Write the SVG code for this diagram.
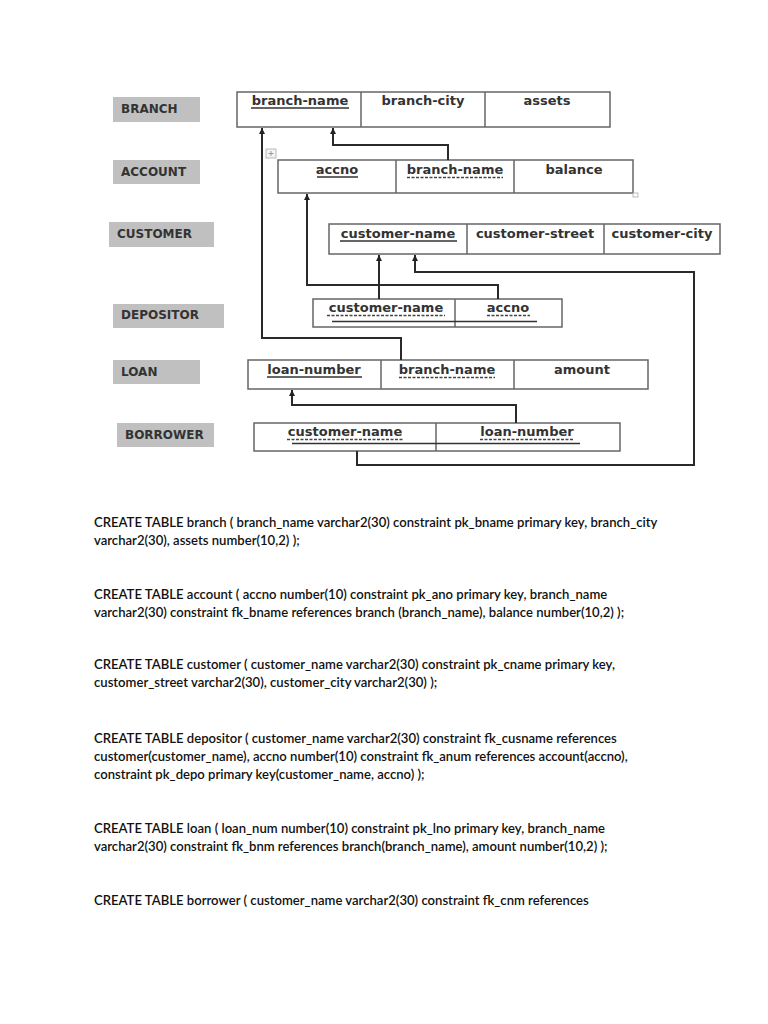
<svg xmlns="http://www.w3.org/2000/svg" width="768" height="1024" viewBox="0 0 768 1024">
<defs>
<marker id="arr" markerUnits="userSpaceOnUse" markerWidth="7" markerHeight="7" refX="6" refY="3" orient="auto">
<path d="M0,0 L6,3 L0,6 z" fill="#222"/>
</marker>
<style>
.lbl{fill:#c0c0c0}
.lt{font-family:"DejaVu Sans",sans-serif;font-weight:bold;font-size:12px;fill:#333}
.tb{fill:#fff;stroke:#666;stroke-width:1.5}
.dv{stroke:#666;stroke-width:1.5}
.ft{font-family:"DejaVu Sans",sans-serif;font-weight:bold;font-size:13px;fill:#333;text-anchor:middle}
.pk{stroke:#333;stroke-width:1.3}
.fk{stroke:#444;stroke-width:1.5;stroke-dasharray:3 1.5}
.cn{fill:none;stroke:#2a2a2a;stroke-width:2}
.sql{font-family:Lato,"Liberation Sans",sans-serif;font-weight:600;font-size:13.1px;fill:#111}
</style>
</defs>
<rect width="768" height="1024" fill="#fff"/>

<g id="label-branch"><rect class="lbl" x="113" y="97" width="87" height="25"/><text class="lt" x="121" y="113">BRANCH</text></g>
<g id="label-account"><rect class="lbl" x="113" y="160" width="87" height="24"/><text class="lt" x="121" y="176">ACCOUNT</text></g>
<g id="label-customer"><rect class="lbl" x="109" y="222" width="105" height="25"/><text class="lt" x="117" y="238">CUSTOMER</text></g>
<g id="label-depositor"><rect class="lbl" x="113" y="304" width="111" height="24"/><text class="lt" x="121" y="319">DEPOSITOR</text></g>
<g id="label-loan"><rect class="lbl" x="113" y="360" width="87" height="24"/><text class="lt" x="121" y="376">LOAN</text></g>
<g id="label-borrower"><rect class="lbl" x="117" y="423" width="97" height="24"/><text class="lt" x="125" y="439">BORROWER</text></g>

<g id="table-branch">
<rect class="tb" x="237" y="92" width="373" height="35"/>
<line class="dv" x1="361" y1="92" x2="361" y2="127"/><line class="dv" x1="485" y1="92" x2="485" y2="127"/>
<text class="ft" x="300" y="105">branch-name</text>
<text class="ft" x="423" y="105">branch-city</text>
<text class="ft" x="547" y="105">assets</text>
<line class="pk" x1="251" y1="108" x2="349" y2="108"/>
</g>

<g id="table-account">
<rect x="266" y="149" width="10" height="9" fill="#f4f4f4" stroke="#aaa" stroke-width="0.8"/>
<path d="M271,151 V156 M268.5,153.5 H273.5" stroke="#888" stroke-width="0.8"/>
<rect class="tb" x="278" y="160" width="355" height="33"/>
<line class="dv" x1="396" y1="160" x2="396" y2="193"/><line class="dv" x1="514" y1="160" x2="514" y2="193"/>
<text class="ft" x="337" y="174">accno</text>
<text class="ft" x="455" y="174">branch-name</text>
<text class="ft" x="574" y="174">balance</text>
<line class="pk" x1="317" y1="177" x2="358" y2="177"/>
<line class="fk" x1="407" y1="177.5" x2="503" y2="177.5"/>
<rect x="633" y="193" width="5" height="4" fill="#fff" stroke="#aaa" stroke-width="0.8"/>
</g>

<g id="table-customer">
<rect class="tb" x="329" y="224" width="391" height="30"/>
<line class="dv" x1="467" y1="224" x2="467" y2="254"/><line class="dv" x1="604" y1="224" x2="604" y2="254"/>
<text class="ft" x="398" y="238">customer-name</text>
<text class="ft" x="535" y="238">customer-street</text>
<text class="ft" x="662" y="238">customer-city</text>
<line class="pk" x1="340" y1="241" x2="457" y2="241"/>
</g>

<g id="table-depositor">
<rect class="tb" x="313" y="299" width="249" height="28"/>
<line class="dv" x1="455" y1="299" x2="455" y2="327"/>
<text class="ft" x="386" y="312">customer-name</text>
<text class="ft" x="508" y="312">accno</text>
<line class="fk" x1="327" y1="315.5" x2="445" y2="315.5"/>
<line class="fk" x1="487" y1="315.5" x2="530" y2="315.5"/>
<line class="pk" x1="332" y1="321.5" x2="537" y2="321.5"/>
</g>

<g id="table-loan">
<rect class="tb" x="248" y="360" width="400" height="29"/>
<line class="dv" x1="381" y1="360" x2="381" y2="389"/><line class="dv" x1="514" y1="360" x2="514" y2="389"/>
<text class="ft" x="314" y="374">loan-number</text>
<text class="ft" x="447" y="374">branch-name</text>
<text class="ft" x="582" y="374">amount</text>
<line class="pk" x1="267" y1="377" x2="362" y2="377"/>
<line class="fk" x1="399" y1="377.5" x2="495" y2="377.5"/>
</g>

<g id="table-borrower">
<rect class="tb" x="254" y="423" width="366" height="28"/>
<line class="dv" x1="436" y1="423" x2="436" y2="451"/>
<text class="ft" x="345" y="436">customer-name</text>
<text class="ft" x="527" y="436">loan-number</text>
<line class="fk" x1="287" y1="439.5" x2="404" y2="439.5"/>
<line class="fk" x1="480" y1="439.5" x2="574" y2="439.5"/>
<line class="pk" x1="292" y1="443.5" x2="580" y2="443.5"/>
</g>

<g id="connectors">
<path class="cn" d="M401,360 V338 H262 V128" marker-end="url(#arr)"/>
<path class="cn" d="M448,160 V145 H333 V128" marker-end="url(#arr)"/>
<path class="cn" d="M498,299 V285 H307 V194" marker-end="url(#arr)"/>
<path class="cn" d="M379,299 V255" marker-end="url(#arr)"/>
<path class="cn" d="M357,451 V465 H694 V272 H415 V255" marker-end="url(#arr)"/>
<path class="cn" d="M516,423 V405 H292 V390" marker-end="url(#arr)"/>
</g>

<g id="sql">
<text class="sql" x="94" y="527">CREATE TABLE branch ( branch_name varchar2(30) constraint pk_bname primary key, branch_city</text>
<text class="sql" x="94" y="545">varchar2(30), assets number(10,2) );</text>
<text class="sql" x="94" y="599">CREATE TABLE account ( accno number(10) constraint pk_ano primary key, branch_name</text>
<text class="sql" x="94" y="617">varchar2(30) constraint fk_bname references branch (branch_name), balance number(10,2) );</text>
<text class="sql" x="94" y="669">CREATE TABLE customer ( customer_name varchar2(30) constraint pk_cname primary key,</text>
<text class="sql" x="94" y="687">customer_street varchar2(30), customer_city varchar2(30) );</text>
<text class="sql" x="94" y="743">CREATE TABLE depositor ( customer_name varchar2(30) constraint fk_cusname references</text>
<text class="sql" x="94" y="761">customer(customer_name), accno number(10) constraint fk_anum references account(accno),</text>
<text class="sql" x="94" y="779">constraint pk_depo primary key(customer_name, accno) );</text>
<text class="sql" x="94" y="833">CREATE TABLE loan ( loan_num number(10) constraint pk_lno primary key, branch_name</text>
<text class="sql" x="94" y="851">varchar2(30) constraint fk_bnm references branch(branch_name), amount number(10,2) );</text>
<text class="sql" x="94" y="905">CREATE TABLE borrower ( customer_name varchar2(30) constraint fk_cnm references</text>
</g>
</svg>
